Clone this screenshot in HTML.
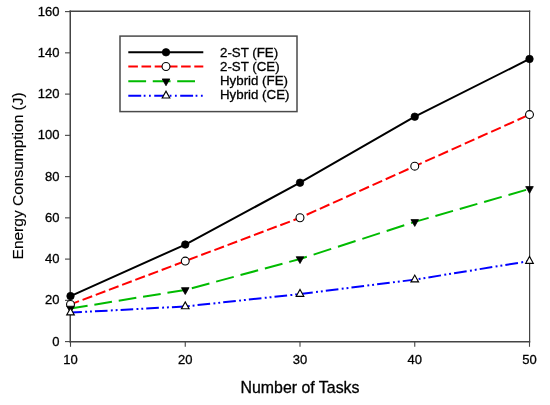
<!DOCTYPE html><html><head><meta charset="utf-8"><style>html,body{margin:0;padding:0;background:#fff;}svg{display:block;}</style></head><body>
<svg width="550" height="405" viewBox="0 0 550 405" font-family='"Liberation Sans", Arial, sans-serif'>
<rect width="550" height="405" fill="#fff"/>
<g fill="#444">
<rect x="69.5" y="10.5" width="1.5" height="332"/>
<rect x="529" y="10.5" width="1.2" height="332"/>
<rect x="69.5" y="10.5" width="460.7" height="1.5"/>
<rect x="69.5" y="341" width="460.7" height="1.5"/>
</g>
<g stroke="#444" stroke-width="1.1" fill="none">
<line x1="65" y1="341.60" x2="70.5" y2="341.60"/>
<line x1="65" y1="300.35" x2="70.5" y2="300.35"/>
<line x1="65" y1="259.10" x2="70.5" y2="259.10"/>
<line x1="65" y1="217.85" x2="70.5" y2="217.85"/>
<line x1="65" y1="176.60" x2="70.5" y2="176.60"/>
<line x1="65" y1="135.35" x2="70.5" y2="135.35"/>
<line x1="65" y1="94.10" x2="70.5" y2="94.10"/>
<line x1="65" y1="52.85" x2="70.5" y2="52.85"/>
<line x1="65" y1="11.60" x2="70.5" y2="11.60"/>
<line x1="70.50" y1="341.5" x2="70.50" y2="346.8"/>
<line x1="185.25" y1="341.5" x2="185.25" y2="346.8"/>
<line x1="300.00" y1="341.5" x2="300.00" y2="346.8"/>
<line x1="414.75" y1="341.5" x2="414.75" y2="346.8"/>
<line x1="529.50" y1="341.5" x2="529.50" y2="346.8"/>
</g>
<g font-size="13" fill="#000" stroke="#000" stroke-width="0.3" text-anchor="end">
<text x="59.5" y="345.70">0</text>
<text x="59.5" y="304.45">20</text>
<text x="59.5" y="263.20">40</text>
<text x="59.5" y="221.95">60</text>
<text x="59.5" y="180.70">80</text>
<text x="59.5" y="139.45">100</text>
<text x="59.5" y="98.20">120</text>
<text x="59.5" y="56.95">140</text>
<text x="59.5" y="15.70">160</text>
</g>
<g font-size="13" fill="#000" stroke="#000" stroke-width="0.3" text-anchor="middle">
<text x="70.50" y="363.9">10</text>
<text x="185.25" y="363.9">20</text>
<text x="300.00" y="363.9">30</text>
<text x="414.75" y="363.9">40</text>
<text x="529.50" y="363.9">50</text>
</g>
<text x="300" y="392.8" font-size="15.9" fill="#000" stroke="#000" stroke-width="0.3" text-anchor="middle">Number of Tasks</text>
<text transform="translate(23.4,175.9) rotate(-90)" font-size="15.5" fill="#000" stroke="#000" stroke-width="0.15" text-anchor="middle">Energy Consumption (J)</text>
<polyline points="70.50,296.12 185.25,244.56 300.00,182.69 414.75,116.69 529.50,58.94" fill="none" stroke="#000" stroke-width="2.0" stroke-linejoin="round"/>
<path d="M70.50,304.38 L79.00,301.17 M82.58,299.82 L92.18,296.19 M95.76,294.84 L105.36,291.22 M108.94,289.87 L118.54,286.24 M122.12,284.89 L131.72,281.27 M135.30,279.92 L144.90,276.29 M148.48,274.94 L158.08,271.32 M161.66,269.97 L171.26,266.34 M174.84,264.99 L184.44,261.37 M188.02,260.02 L197.62,256.39 M201.20,255.04 L210.80,251.42 M214.38,250.07 L223.98,246.44 M227.56,245.09 L237.16,241.47 M240.74,240.12 L250.34,236.49 M253.92,235.14 L263.52,231.52 M267.10,230.17 L276.70,226.54 M280.28,225.19 L289.88,221.57 M293.46,220.22 L300.00,217.75 L303.06,216.37 M306.64,214.77 L316.24,210.45 M319.82,208.84 L329.42,204.53 M333.00,202.92 L342.60,198.61 M346.18,197.00 L355.78,192.69 M359.36,191.08 L368.96,186.76 M372.54,185.15 L382.14,180.84 M385.72,179.23 L395.32,174.92 M398.90,173.31 L408.50,169.00 M412.08,167.39 L414.75,166.19 L421.68,163.07 M425.26,161.46 L434.86,157.15 M438.44,155.54 L448.04,151.23 M451.62,149.62 L461.22,145.31 M464.80,143.70 L474.40,139.38 M477.98,137.78 L487.58,133.46 M491.16,131.85 L500.76,127.54 M504.34,125.93 L513.94,121.62 M517.52,120.01 L527.12,115.69" fill="none" stroke="#ff0000" stroke-width="2.0" stroke-linejoin="round"/>
<path d="M70.50,308.50 L87.60,305.73 M94.36,304.64 L111.96,301.79 M118.72,300.70 L136.32,297.85 M143.08,296.76 L160.68,293.91 M167.44,292.82 L185.04,289.97 M191.80,288.17 L209.40,283.43 M216.16,281.60 L233.76,276.86 M240.52,275.04 L258.12,270.29 M264.88,268.47 L282.48,263.72 M289.24,261.90 L300.00,259.00 L306.84,256.79 M313.60,254.60 L331.20,248.91 M337.96,246.72 L355.56,241.02 M362.32,238.84 L379.92,233.14 M386.68,230.96 L404.28,225.26 M411.04,223.08 L414.75,221.88 L428.64,217.88 M435.40,215.94 L453.00,210.87 M459.76,208.93 L477.36,203.87 M484.12,201.93 L501.72,196.86 M508.48,194.92 L526.08,189.86" fill="none" stroke="#00bb00" stroke-width="2.0" stroke-linejoin="round"/>
<path d="M70.50,312.62 L81.90,312.01 M85.20,311.83 L87.10,311.73 M90.00,311.57 L91.90,311.47 M94.95,311.31 L107.55,310.63 M110.85,310.45 L112.75,310.35 M115.65,310.19 L117.55,310.09 M120.60,309.92 L133.20,309.24 M136.50,309.07 L138.40,308.96 M141.30,308.81 L143.20,308.70 M146.25,308.54 L158.85,307.86 M162.15,307.68 L164.05,307.58 M166.95,307.42 L168.85,307.32 M171.90,307.16 L184.50,306.48 M187.80,306.16 L189.70,305.96 M192.60,305.64 L194.50,305.44 M197.55,305.11 L210.15,303.75 M213.45,303.40 L215.35,303.19 M218.25,302.88 L220.15,302.67 M223.20,302.34 L235.80,300.99 M239.10,300.63 L241.00,300.43 M243.90,300.11 L245.80,299.91 M248.85,299.58 L261.45,298.22 M264.75,297.86 L266.65,297.66 M269.55,297.35 L271.45,297.14 M274.50,296.81 L287.10,295.45 M290.40,295.10 L292.30,294.89 M295.20,294.58 L297.10,294.38 M300.15,294.04 L312.75,292.46 M316.05,292.04 L317.95,291.80 M320.85,291.44 L322.75,291.20 M325.80,290.82 L338.40,289.23 M341.70,288.82 L343.60,288.58 M346.50,288.21 L348.40,287.97 M351.45,287.59 L364.05,286.00 M367.35,285.59 L369.25,285.35 M372.15,284.98 L374.05,284.75 M377.10,284.36 L389.70,282.78 M393.00,282.36 L394.90,282.12 M397.80,281.76 L399.70,281.52 M402.75,281.13 L414.75,279.62 L415.35,279.53 M418.65,278.99 L420.55,278.69 M423.45,278.22 L425.35,277.91 M428.40,277.42 L441.00,275.38 M444.30,274.84 L446.20,274.54 M449.10,274.07 L451.00,273.76 M454.05,273.27 L466.65,271.23 M469.95,270.70 L471.85,270.39 M474.75,269.92 L476.65,269.61 M479.70,269.12 L492.30,267.08 M495.60,266.55 L497.50,266.24 M500.40,265.77 L502.30,265.46 M505.35,264.97 L517.95,262.93 M521.25,262.40 L523.15,262.09 M526.05,261.62 L527.95,261.31" fill="none" stroke="#0000ff" stroke-width="2.0" stroke-linejoin="round"/>
<circle cx="70.50" cy="296.12" r="3.75" fill="#000" stroke="#000" stroke-width="0.7"/>
<circle cx="185.25" cy="244.56" r="3.75" fill="#000" stroke="#000" stroke-width="0.7"/>
<circle cx="300.00" cy="182.69" r="3.75" fill="#000" stroke="#000" stroke-width="0.7"/>
<circle cx="414.75" cy="116.69" r="3.75" fill="#000" stroke="#000" stroke-width="0.7"/>
<circle cx="529.50" cy="58.94" r="3.75" fill="#000" stroke="#000" stroke-width="0.7"/>
<circle cx="70.50" cy="304.38" r="3.95" fill="#fff" stroke="#000" stroke-width="1.1"/>
<circle cx="185.25" cy="261.06" r="3.95" fill="#fff" stroke="#000" stroke-width="1.1"/>
<circle cx="300.00" cy="217.75" r="3.95" fill="#fff" stroke="#000" stroke-width="1.1"/>
<circle cx="414.75" cy="166.19" r="3.95" fill="#fff" stroke="#000" stroke-width="1.1"/>
<circle cx="529.50" cy="114.62" r="3.95" fill="#fff" stroke="#000" stroke-width="1.1"/>
<polygon points="66.70,306.23 74.30,306.23 70.50,313.03" fill="#000" stroke="#000" stroke-width="0.8"/>
<polygon points="181.45,287.67 189.05,287.67 185.25,294.47" fill="#000" stroke="#000" stroke-width="0.8"/>
<polygon points="296.20,256.73 303.80,256.73 300.00,263.53" fill="#000" stroke="#000" stroke-width="0.8"/>
<polygon points="410.95,219.61 418.55,219.61 414.75,226.41" fill="#000" stroke="#000" stroke-width="0.8"/>
<polygon points="525.70,186.61 533.30,186.61 529.50,193.41" fill="#000" stroke="#000" stroke-width="0.8"/>
<polygon points="66.70,314.89 74.30,314.89 70.50,308.09" fill="#fff" stroke="#000" stroke-width="1.15"/>
<polygon points="181.45,308.70 189.05,308.70 185.25,301.90" fill="#fff" stroke="#000" stroke-width="1.15"/>
<polygon points="296.20,296.33 303.80,296.33 300.00,289.53" fill="#fff" stroke="#000" stroke-width="1.15"/>
<polygon points="410.95,281.89 418.55,281.89 414.75,275.09" fill="#fff" stroke="#000" stroke-width="1.15"/>
<polygon points="525.70,263.33 533.30,263.33 529.50,256.53" fill="#fff" stroke="#000" stroke-width="1.15"/>
<rect x="120" y="36.1" width="177" height="75.5" fill="#fff" stroke="#4a4a4a" stroke-width="1.5"/>
<line x1="128.3" y1="52.3" x2="203.3" y2="52.3" stroke="#000" stroke-width="2.0"/>
<circle cx="166.00" cy="52.30" r="3.75" fill="#000" stroke="#000" stroke-width="0.7"/>
<path d="M128.30,66.50 L137.90,66.50 M141.50,66.50 L151.10,66.50 M154.70,66.50 L164.30,66.50 M167.90,66.50 L177.50,66.50 M181.10,66.50 L190.70,66.50 M194.30,66.50 L203.30,66.50" fill="none" stroke="#ff0000" stroke-width="2.0"/>
<circle cx="166.00" cy="66.50" r="3.95" fill="#fff" stroke="#000" stroke-width="1.1"/>
<path d="M128.30,81.20 L146.10,81.20 M152.75,81.20 L170.55,81.20 M177.20,81.20 L195.00,81.20" fill="none" stroke="#00bb00" stroke-width="2.0"/>
<polygon points="162.20,78.93 169.80,78.93 166.00,85.73" fill="#000" stroke="#000" stroke-width="0.8"/>
<path d="M128.30,95.70 L141.20,95.70 M143.70,95.70 L145.50,95.70 M149.00,95.70 L150.80,95.70 M154.25,95.70 L167.15,95.70 M169.65,95.70 L171.45,95.70 M174.95,95.70 L176.75,95.70 M180.20,95.70 L193.10,95.70 M195.60,95.70 L197.40,95.70 M200.90,95.70 L202.70,95.70" fill="none" stroke="#0000ff" stroke-width="2.0"/>
<polygon points="162.20,97.97 169.80,97.97 166.00,91.17" fill="#fff" stroke="#000" stroke-width="1.15"/>
<g font-size="13.3" fill="#000" stroke="#000" stroke-width="0.3">
<text x="220" y="56.50">2-ST (FE)</text>
<text x="220" y="70.80">2-ST (CE)</text>
<text x="220" y="85.00">Hybrid (FE)</text>
<text x="220" y="99.20">Hybrid (CE)</text>
</g>
</svg></body></html>
